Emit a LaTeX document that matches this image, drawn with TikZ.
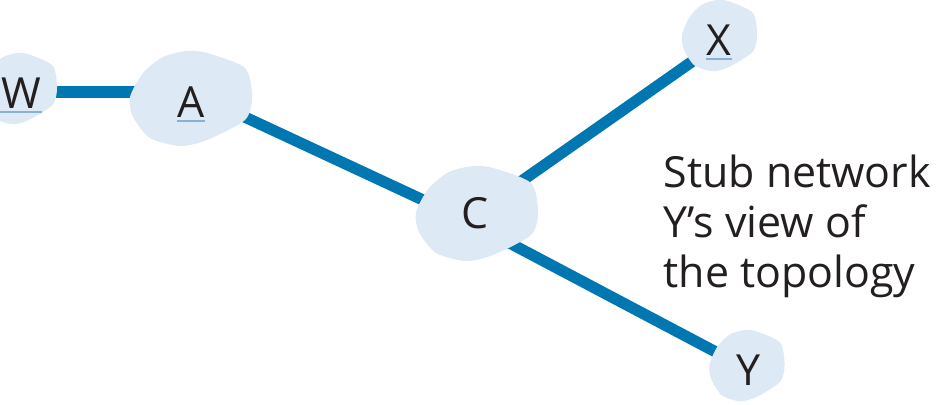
\documentclass[tikz,border=0pt]{standalone}
\usepackage{fontspec}
\setmainfont{Open Sans}
\definecolor{linkblue}{RGB}{0,119,176}
\definecolor{cloudblue}{RGB}{221,233,244}
\definecolor{ulineblue}{RGB}{138,176,212}
\definecolor{textblack}{RGB}{35,31,32}
\tikzset{
  hub/.style={inner sep=0pt,minimum size=0pt},
  tag/.style={inner sep=0pt,text=textblack,font=\fontsize{12.2}{14.2}\selectfont},
  link/.style={line width=3.2pt,linkblue},
  uline/.style={line width=0.6pt,ulineblue},
  netcloud/.pic={
    \fill[cloudblue] plot[smooth cycle,tension=0.45] coordinates {
      (-.61,-.04) (-.48,.20) (-.28,.36) (-.04,.42) (.16,.40) (.54,.25)
      (.61,-.04) (.54,-.27) (.16,-.47) (-.11,-.53) (-.41,-.45) (-.58,-.24)};
  }
}
\begin{document}
\begin{tikzpicture}

        \useasboundingbox (0,0) rectangle (9.48,4.04);

        \node[hub] (W) at (0.22,3.12) {};
        \node[hub] (A) at (1.91,3.12) {};
        \node[hub] (C) at (4.66,1.84) {};
        \node[hub] (X) at (7.20,3.62) {};
        \node[hub] (Y) at (7.48,0.35) {};

        \draw[link] (W) -- (A);
        \draw[link] (A) -- (C);
        \draw[link] (C) -- (X);
        \draw[link] (C) -- (Y);

        \pic at (0.195,3.195) [xscale=0.615,yscale=0.75] {netcloud};
        \pic at (1.91,3.11) {netcloud};
        \pic at (4.77,1.96) {netcloud};
        \pic at (7.195,3.725) [xscale=0.615,yscale=0.75] {netcloud};
        \pic at (7.47,0.425) [xscale=0.615,yscale=0.75] {netcloud};

        \node[tag] (labW) at (0.21,3.11) {W};
        \node[tag] (labA) at (1.91,3.02) {A};
        \node[tag] (labC) at (4.75,1.91) {C};
        \node[tag] (labX) at (7.19,3.64) {X};
        \node[tag] (labY) at (7.48,0.34) {Y};

        \draw[uline] ([yshift=-1pt]labW.base west) -- ([yshift=-1pt]labW.base east);
        \draw[uline] ([yshift=-1pt]labA.base west) -- ([yshift=-1pt]labA.base east);
        \draw[uline] ([yshift=-1pt]labX.base west) -- ([yshift=-1pt]labX.base east);

        \node[tag,anchor=north west,align=left] (view) at (6.63,2.50) {Stub network\\Y’s view of\\the topology};
\end{tikzpicture}
\end{document}
